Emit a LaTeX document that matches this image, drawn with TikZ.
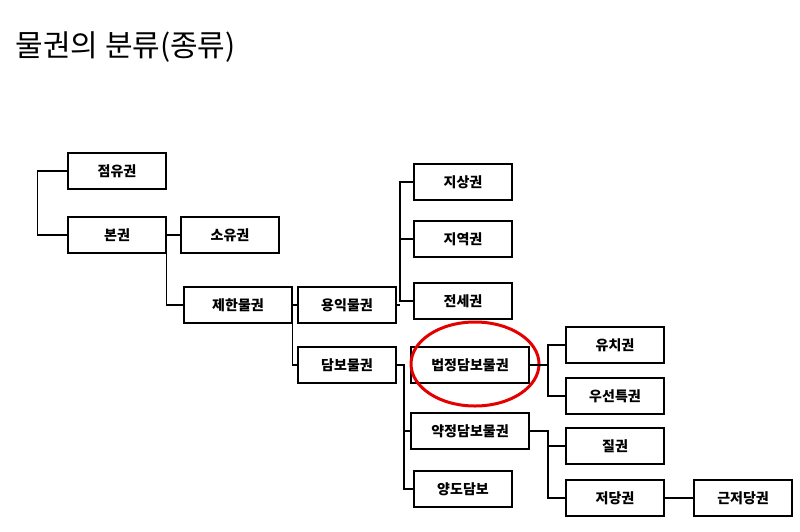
\documentclass[tikz,border=0pt]{standalone}
\usepackage{fontspec}
\setmainfont{Noto Sans CJK KR}
\begin{document}
\begin{tikzpicture}[x=1pt,y=-1pt,
  bx/.style={draw,line width=1.6pt,minimum width=98pt,minimum height=36pt,inner sep=1pt,font=\fontsize{14}{16}\selectfont\bfseries},
  ln/.style={line width=1.2pt}]
\useasboundingbox (0,0) rectangle (800,531);
\node[anchor=west,font=\fontsize{30}{34}\selectfont] (title) at (12,47) {물권의 분류(종류)};
\node[bx] (a) at (117,171) {점유권};
\node[bx] (b) at (117,235) {본권};
\node[bx] (c) at (230,235) {소유권};
\node[bx,minimum width=108pt] (d) at (238,305) {제한물권};
\node[bx] (e) at (347,305) {용익물권};
\node[bx] (f) at (347,365) {담보물권};
\node[bx] (g) at (463,182) {지상권};
\node[bx] (h) at (463,239) {지역권};
\node[bx] (i) at (463,301) {전세권};
\node[bx,minimum width=118pt] (j) at (470,365) {법정담보물권};
\node[bx,minimum width=118pt] (k) at (470,431) {약정담보물권};
\node[bx] (l) at (463,489) {양도담보};
\node[bx] (m) at (615,345) {유치권};
\node[bx] (n) at (615,396) {우선특권};
\node[bx] (o) at (615,446) {질권};
\node[bx] (p) at (615,498) {저당권};
\node[bx] (q) at (743,498) {근저당권};
\draw[red!90!black,line width=3pt] (475,364) ellipse (64 and 42);
\draw[ln] (a.west) -- ++(-30,0) |- (b.west);
\draw[ln] (b) -- (c);
\draw[ln] (b.south east) |- (d.west);
\draw[ln] (d) -- (e);
\draw[ln] (d.east) |- (f.west);
\draw[ln] (e.east) -- (400,305);
\draw[ln] (g.west) -| (400,301) |- (i.west);
\draw[ln] (h.west) -- (400,239);
\draw[ln] (f.east) -| (404,489) -- (l.west);
\draw[ln] (404,431) -- (k.west);
\draw[ln] (j.east) -- (548,365);
\draw[ln] (m.west) -| (548,396) -- (n.west);
\draw[ln] (k.east) -| (548,498) -- (p.west);
\draw[ln] (548,446) -- (o.west);
\draw[ln] (p) -- (q);
\end{tikzpicture}
\end{document}
